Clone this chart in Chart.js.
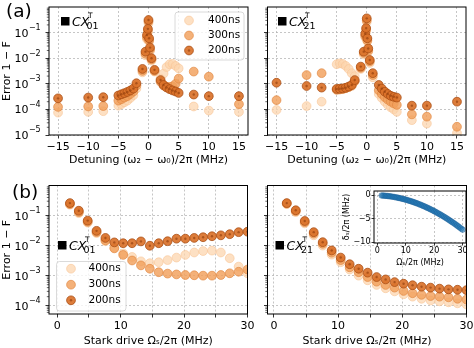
<!DOCTYPE html>
<html>
<head>
<meta charset="utf-8">
<script src="https://cdn.jsdelivr.net/npm/chart.js@4"></script>
<style>
  html, body { margin: 0; padding: 0; background: #fff; }
  #wrap { position: relative; width: 474px; height: 348px; }
  #wrap canvas { position: absolute; left: 0; top: 0; }
</style>
</head>
<body>
<div id="wrap">
  <canvas id="pa1" width="474" height="348"></canvas>
  <canvas id="pa2" width="474" height="348"></canvas>
  <canvas id="pb1" width="474" height="348"></canvas>
  <canvas id="pb2" width="474" height="348"></canvas>
  <canvas id="inset" width="474" height="348"></canvas>
</div>
<script>
// ---- (a) detuning sweep ----
const detuning = [-15, -10, -7.5, -5, -4.5, -4, -3.5, -3, -2.5, -2, -1, -0.5, -0.25, -0.1, 0, 0.1, 0.25, 0.5, 1, 2, 2.5, 3, 3.5, 4, 4.5, 5, 7.5, 10, 15];

const cx01Det200 = [2.7e-4, 2.9e-4, 3.0e-4, 3.5e-4, 3.9e-4, 4.3e-4, 4.8e-4, 5.5e-4, 6.5e-4, 1.05e-3, 3.8e-3, 1.8e-2, 8.0e-2, 0.14, 0.31, 0.06, 0.026, 0.01, 3.5e-3, 1.4e-3, 9e-4, 7.2e-4, 6.2e-4, 5.5e-4, 5e-4, 4.4e-4, 3.8e-4, 3.3e-4, 3.3e-4];
const cx01Det300 = [1.25e-4, 1.3e-4, 1.35e-4, 2.2e-4, 2.5e-4, 2.9e-4, 3.3e-4, 4e-4, 5e-4, 8.5e-4, 3.2e-3, 1.5e-2, 6.5e-2, 0.12, 0.27, 0.05, 0.022, 9e-3, 3.2e-3, 1.2e-3, 8.5e-4, 7.5e-4, 7.5e-4, 8e-4, 1e-3, 1.6e-3, 3e-3, 1.9e-3, 1.6e-4];
const cx01Det400 = [7.5e-5, 8e-5, 8.5e-5, 1.4e-4, 1.6e-4, 1.9e-4, 2.2e-4, 2.8e-4, 3.6e-4, 6.5e-4, 2.8e-3, 1.3e-2, 5.5e-2, 0.1, 0.23, 0.045, 0.019, 8e-3, 3e-3, 1.6e-3, 2.5e-3, 4.5e-3, 5.8e-3, 6e-3, 5e-3, 4e-3, 1.3e-4, 9e-5, 8e-5];

const cx21Det200 = [1.1e-3, 8.2e-4, 7.1e-4, 6.3e-4, 6.4e-4, 6.6e-4, 7e-4, 7.8e-4, 9e-4, 1.4e-3, 4.7e-3, 1.8e-2, 0.09, 0.15, 0.36, 0.06, 0.024, 8.5e-3, 2.6e-3, 9e-4, 6.5e-4, 4.9e-4, 4e-4, 3.4e-4, 3.1e-4, 2.9e-4, 1.4e-4, 1.4e-4, 2e-4];
const cx21Det300 = [2.3e-4, 2.2e-3, 2.6e-3, 5.8e-4, 6e-4, 6.2e-4, 6.7e-4, 7.4e-4, 8.4e-4, 1.25e-3, 4.2e-3, 1.6e-2, 0.075, 0.13, 0.3, 0.05, 0.02, 7.5e-3, 2.2e-3, 5.6e-4, 4e-4, 3e-4, 2.4e-4, 2e-4, 1.7e-4, 1.5e-4, 6.4e-5, 5.2e-5, 2.1e-5];
const cx21Det400 = [9.5e-5, 1.35e-4, 2e-4, 5.8e-3, 6.3e-3, 6e-3, 5e-3, 3.8e-3, 2.6e-3, 2e-3, 3.8e-3, 1.4e-2, 0.065, 0.11, 0.26, 0.045, 0.018, 6.5e-3, 1.8e-3, 4e-4, 2.8e-4, 2e-4, 1.5e-4, 1.2e-4, 1e-4, 8e-5, 3.8e-5, 2.8e-5, 1.2e-5];

// ---- (b) Stark drive sweep ----
const starkDrive = [2, 3.4, 4.8, 6.2, 7.6, 9, 10.4, 11.8, 13.2, 14.6, 16, 17.4, 18.8, 20.2, 21.6, 23, 24.4, 25.8, 27.2, 28.6, 30];

const cx01Stark200 = [0.26, 0.145, 0.068, 0.031, 0.018, 0.0128, 0.012, 0.012, 0.0138, 0.0099, 0.012, 0.014, 0.017, 0.017, 0.018, 0.019, 0.0205, 0.022, 0.024, 0.028, 0.029];
const cx01Stark300 = [0.24, 0.13, 0.062, 0.028, 0.015, 0.0081, 0.0049, 0.0032, 0.0022, 0.0017, 0.0013, 0.00117, 0.0011, 0.00105, 0.00103, 0.001, 0.001, 0.00105, 0.0012, 0.00135, 0.0016];
const cx01Stark400 = [0.23, 0.12, 0.058, 0.026, 0.014, 0.0085, 0.0055, 0.0042, 0.003, 0.0026, 0.0028, 0.0033, 0.004, 0.0049, 0.0059, 0.0066, 0.0068, 0.0059, 0.0038, 0.002, 0.0012];

const cx21Stark200 = [0.26, 0.15, 0.066, 0.028, 0.013, 0.0069, 0.004, 0.0024, 0.0017, 0.00126, 0.0009, 0.00075, 0.00061, 0.00054, 0.00048, 0.00043, 0.0004, 0.00037, 0.00035, 0.00034, 0.00033];
const cx21Stark300 = [0.25, 0.14, 0.06, 0.025, 0.0115, 0.0058, 0.0033, 0.0019, 0.0013, 0.0009, 0.00063, 0.00049, 0.0004, 0.00031, 0.00026, 0.00023, 0.00021, 0.0002, 0.00019, 0.00017, 0.00016];
const cx21Stark400 = [0.24, 0.13, 0.055, 0.022, 0.01, 0.005, 0.0028, 0.0016, 0.001, 0.0007, 0.00049, 0.00038, 0.0003, 0.00024, 0.0002, 0.00017, 0.00015, 0.00014, 0.00013, 0.00012, 0.00011];

// ---- inset: Stark shift vs drive amplitude ----
const insetDrive = [1.5, 2, 2.5, 3, 3.5, 4, 4.5, 5, 5.5, 6, 6.5, 7, 7.5, 8, 8.5, 9, 9.5, 10, 10.5, 11, 11.5, 12, 12.5, 13, 13.5, 14, 14.5, 15, 15.5, 16, 16.5, 17, 17.5, 18, 18.5, 19, 19.5, 20, 20.5, 21, 21.5, 22, 22.5, 23, 23.5, 24, 24.5, 25, 25.5, 26, 26.5, 27, 27.5, 28, 28.5, 29, 29.5, 30];
const insetShift = [-0.05, -0.07, -0.10, -0.13, -0.16, -0.20, -0.24, -0.29, -0.34, -0.39, -0.45, -0.51, -0.57, -0.64, -0.71, -0.79, -0.87, -0.95, -1.04, -1.13, -1.22, -1.32, -1.42, -1.53, -1.64, -1.75, -1.87, -1.99, -2.11, -2.24, -2.37, -2.51, -2.65, -2.79, -2.94, -3.09, -3.24, -3.40, -3.56, -3.73, -3.90, -4.07, -4.25, -4.43, -4.61, -4.80, -4.99, -5.19, -5.39, -5.59, -5.80, -6.01, -6.22, -6.44, -6.66, -6.89, -7.12, -7.35];

const durations = ['400ns', '300ns', '200ns'];
const detTicks = [-15, -10, -5, 0, 5, 10, 15];
const starkTicks = [0, 5, 10, 15, 20, 25, 30];
const errTicksA = [1e-5, 1e-4, 1e-3, 1e-2, 1e-1];
const errTicksB = [1e-4, 1e-3, 1e-2, 1e-1];
const insetXTicks = [0, 10, 20, 30];
const insetYTicks = [-10, -5, 0];

const FONT = 'DejaVu Sans';
const W = 474, H = 348;
const GRID = 'rgba(176,176,176,0.9)';

const STYLE = {
  '400ns': { bg: 'rgba(252,212,172,0.72)', border: 'rgba(248,196,150,0.75)' },
  '300ns': { bg: 'rgba(241,160,92,0.82)', border: 'rgba(226,136,66,0.85)' },
  '200ns': { bg: 'rgba(218,114,42,0.92)', border: 'rgba(168,76,18,0.95)' }
};

function numLabel(v) { return v < 0 ? '\u2212' + Math.abs(v) : String(v); }

function series(xs, ys, st, r) {
  return {
    data: xs.map((x, i) => ({ x: x, y: ys[i] })),
    pointRadius: r, pointHoverRadius: r,
    pointBackgroundColor: st.bg, pointBorderColor: st.border, pointBorderWidth: 0.8,
    showLine: false
  };
}
// three gate durations; the 200 ns markers carry a darker centre
function errorSets(xs, y200, y300, y400) {
  return [
    { data: xs.map((x, i) => ({ x: x, y: y200[i] })), pointRadius: 1.2, pointBackgroundColor: 'rgba(140,58,10,0.6)', pointBorderWidth: 0, showLine: false },
    series(xs, y200, STYLE['200ns'], 4.4),
    series(xs, y300, STYLE['300ns'], 4.4),
    series(xs, y400, STYLE['400ns'], 4.4)
  ];
}

// box around the axes, minor log ticks and power-of-ten labels
const framePlugin = {
  id: 'frame',
  afterDraw(chart, args, opts) {
    const { ctx, chartArea: a } = chart;
    ctx.save();
    ctx.strokeStyle = '#000';
    ctx.lineWidth = 1;
    ctx.strokeRect(a.left, a.top, a.right - a.left, a.bottom - a.top);
    const ys = chart.scales.y;
    if (ys.type === 'logarithmic') {
      ctx.lineWidth = 0.6;
      ctx.beginPath();
      for (let e = -6; e <= 0; e++) {
        for (let m = 2; m <= 9; m++) {
          const v = m * Math.pow(10, e);
          if (v < ys.min || v > ys.max) continue;
          const py = ys.getPixelForValue(v);
          ctx.moveTo(a.left - 2.2, py);
          ctx.lineTo(a.left, py);
        }
      }
      ctx.stroke();
      if (opts && opts.powLabels) {
        ctx.fillStyle = '#000';
        ctx.textAlign = 'right';
        ctx.textBaseline = 'alphabetic';
        ys.ticks.forEach(t => {
          const py = ys.getPixelForValue(t.value);
          const e = Math.round(Math.log10(t.value));
          const expText = e < 0 ? '\u2212' + Math.abs(e) : String(e);
          const xr = a.left - 8.3;
          ctx.font = '8px "' + FONT + '"';
          const ew = ctx.measureText(expText).width;
          ctx.fillText(expText, xr, py - 2.6);
          ctx.font = '11px "' + FONT + '"';
          ctx.fillText('10', xr - ew - 0.4, py + 4);
        });
      }
    }
    ctx.restore();
  }
};

function drawCX(ctx, sx, by, sub) {
  ctx.save();
  ctx.fillStyle = '#000';
  ctx.fillRect(sx, by - 9, 8.5, 8.5);
  ctx.textAlign = 'left';
  ctx.textBaseline = 'alphabetic';
  ctx.font = 'italic 12.5px "' + FONT + '"';
  ctx.fillText('CX', sx + 11, by);
  ctx.font = '9.5px "' + FONT + '"';
  ctx.fillText(sub, sx + 25.5, by + 3);
  ctx.font = '7.5px "' + FONT + '"';
  ctx.fillText('T', sx + 27, by - 8);
  ctx.restore();
}

function drawLegend(ctx, box, rows) {
  ctx.save();
  const r = 3;
  ctx.beginPath();
  ctx.moveTo(box.l + r, box.t);
  ctx.arcTo(box.r, box.t, box.r, box.b, r);
  ctx.arcTo(box.r, box.b, box.l, box.b, r);
  ctx.arcTo(box.l, box.b, box.l, box.t, r);
  ctx.arcTo(box.l, box.t, box.r, box.t, r);
  ctx.closePath();
  ctx.fillStyle = 'rgba(255,255,255,0.8)';
  ctx.fill();
  ctx.strokeStyle = 'rgba(204,204,204,0.9)';
  ctx.lineWidth = 0.8;
  ctx.stroke();
  ctx.font = '10.5px "' + FONT + '"';
  ctx.textBaseline = 'middle';
  ctx.textAlign = 'left';
  durations.forEach((name, i) => {
    const st = STYLE[name];
    const y = rows.y[i];
    ctx.beginPath();
    ctx.arc(rows.mx, y, 4.4, 0, Math.PI * 2);
    ctx.fillStyle = st.bg; ctx.fill();
    ctx.strokeStyle = st.border; ctx.lineWidth = 0.8; ctx.stroke();
    if (name === '200ns') {
      ctx.beginPath(); ctx.arc(rows.mx, y, 1.2, 0, Math.PI * 2);
      ctx.fillStyle = 'rgba(140,58,10,0.6)'; ctx.fill();
    }
    ctx.fillStyle = '#000';
    ctx.fillText(name, rows.tx, y);
  });
  ctx.restore();
}

function panelLabel(ctx, text, x, y) {
  ctx.save();
  ctx.font = '18.5px "' + FONT + '"';
  ctx.fillStyle = '#000';
  ctx.textBaseline = 'alphabetic';
  ctx.textAlign = 'left';
  ctx.fillText(text, x, y);
  ctx.restore();
}

function makePanel(id, o) {
  const zeroPad = s => { s.paddingLeft = 0; s.paddingRight = 0; s.paddingTop = 0; s.paddingBottom = 0; };
  return new Chart(document.getElementById(id), {
    type: 'scatter',
    data: { datasets: o.datasets },
    options: {
      responsive: false, animation: false, events: [],
      layout: { padding: { left: o.area.l - o.yW, top: o.area.t, right: W - o.area.r, bottom: H - o.area.b - o.xH } },
      plugins: { legend: { display: false }, tooltip: { enabled: false }, frame: { powLabels: !!o.powLabels } },
      scales: {
        x: {
          type: 'linear', min: o.xMin, max: o.xMax,
          afterBuildTicks: s => { s.ticks = o.xTicks.map(v => ({ value: v })); },
          afterFit: s => { s.height = o.xH; zeroPad(s); },
          ticks: { autoSkip: false, maxRotation: 0, color: '#000', font: { family: FONT, size: o.fs }, padding: o.xPad, callback: o.xFmt },
          grid: { color: GRID, lineWidth: 0.8, tickColor: '#000', tickLength: o.tl, tickWidth: 0.8 },
          border: { display: false, dash: [2, 2] },
          title: { display: !!o.xTitle, text: o.xTitle, color: '#000', font: { family: FONT, size: o.tfs }, padding: 0 }
        },
        y: {
          type: o.yType, min: o.yMin, max: o.yMax,
          afterBuildTicks: s => { s.ticks = o.yTicks.map(v => ({ value: v })); },
          afterFit: s => { s.width = o.yW; zeroPad(s); },
          ticks: { display: o.yLabels, autoSkip: false, color: '#000', font: { family: FONT, size: o.fs }, padding: o.yPad, callback: o.yFmt },
          grid: { color: GRID, lineWidth: 0.8, tickColor: '#000', tickLength: o.tl, tickWidth: 0.8 },
          border: { display: false, dash: [2, 2] },
          title: { display: !!o.yTitle, text: o.yTitle, color: '#000', font: { family: FONT, size: o.tfs }, padding: 0 }
        }
      }
    },
    plugins: [framePlugin].concat(o.extra || [])
  });
}

const detTitle = 'Detuning (\u03C9\u2082 \u2212 \u03C9\u2080)/2\u03C0 (MHz)';
const starkTitle = 'Stark drive \u03A9\u209B/2\u03C0 (MHz)';
const errTitle = 'Error 1 \u2212 F';

// decade labels are drawn by the frame plugin (10 with a raised exponent)
const common = { fs: 11, tfs: 11, tl: 3.5, xPad: 2, yPad: 3, xFmt: numLabel, yFmt: () => '', yType: 'logarithmic', powLabels: true };

// (a) left: CX01, detuning sweep
makePanel('pa1', Object.assign({}, common, {
  area: { l: 49, t: 7, r: 248, b: 135 }, yW: 48, xH: 32,
  xMin: -16.5, xMax: 16.5, xTicks: detTicks, yMin: 1e-5, yMax: 1, yTicks: errTicksA, yLabels: true,
  xTitle: detTitle, yTitle: errTitle,
  datasets: errorSets(detuning, cx01Det200, cx01Det300, cx01Det400),
  extra: [{ id: 'decorA1', afterDraw(chart) {
    const ctx = chart.ctx;
    drawCX(ctx, 61, 26, '01');
    drawLegend(ctx, { l: 175, t: 12, r: 244, b: 60 }, { mx: 189, tx: 208, y: [20.5, 35.5, 50.5] });
    panelLabel(ctx, '(a)', 6, 17);
  } }]
}));

// (a) right: CX21, detuning sweep
makePanel('pa2', Object.assign({}, common, {
  area: { l: 267.5, t: 7, r: 466, b: 135 }, yW: 6, xH: 32,
  xMin: -16.5, xMax: 16.5, xTicks: detTicks, yMin: 1e-5, yMax: 1, yTicks: errTicksA, yLabels: false, powLabels: false,
  xTitle: detTitle, yTitle: '',
  datasets: errorSets(detuning, cx21Det200, cx21Det300, cx21Det400),
  extra: [{ id: 'decorA2', afterDraw(chart) { drawCX(chart.ctx, 278, 26, '21'); } }]
}));

// (b) left: CX01, Stark drive sweep
makePanel('pb1', Object.assign({}, common, {
  area: { l: 49, t: 185.5, r: 247.5, b: 314 }, yW: 48, xH: 33.6,
  xMin: -1.3, xMax: 30, xTicks: starkTicks, yMin: 5.3e-5, yMax: 1, yTicks: errTicksB, yLabels: true,
  xFmt: v => (v % 10 === 0 ? String(v) : ''),
  xTitle: starkTitle, yTitle: errTitle,
  datasets: errorSets(starkDrive, cx01Stark200, cx01Stark300, cx01Stark400),
  extra: [{ id: 'decorB1', afterDraw(chart) {
    const ctx = chart.ctx;
    drawCX(ctx, 58, 250, '01');
    drawLegend(ctx, { l: 56.5, t: 261.5, r: 126, b: 311 }, { mx: 71, tx: 88.5, y: [268.7, 284.7, 300.3] });
    panelLabel(ctx, '(b)', 12, 198);
  } }]
}));

// (b) right: CX21, Stark drive sweep
makePanel('pb2', Object.assign({}, common, {
  area: { l: 267.5, t: 185.5, r: 466.5, b: 314 }, yW: 6, xH: 33.6,
  xMin: -1, xMax: 30, xTicks: starkTicks, yMin: 5.3e-5, yMax: 1, yTicks: errTicksB, yLabels: false, powLabels: false,
  xFmt: v => (v % 10 === 0 ? String(v) : ''),
  xTitle: starkTitle, yTitle: '',
  datasets: errorSets(starkDrive, cx21Stark200, cx21Stark300, cx21Stark400),
  extra: [{ id: 'decorB2', afterDraw(chart) { drawCX(chart.ctx, 275.5, 250, '21'); } }]
}));

// inset: measured Stark shift
makePanel('inset', {
  fs: 8, tfs: 8, tl: 2.5, xPad: 1, yPad: 1, yType: 'linear',
  area: { l: 374, t: 191, r: 466, b: 243 }, yW: 32, xH: 24.3,
  xMin: -1.2, xMax: 31.2, xTicks: insetXTicks, yMin: -10.2, yMax: 0.9, yTicks: insetYTicks, yLabels: true,
  xFmt: numLabel, yFmt: numLabel,
  xTitle: '\u03A9\u209B/2\u03C0 (MHz)', yTitle: '\u03B4\u209B/2\u03C0 (MHz)',
  datasets: [{
    data: insetDrive.map((x, i) => ({ x: x, y: insetShift[i] })),
    pointRadius: 2.8, pointBackgroundColor: 'rgba(31,119,180,0.55)', pointBorderColor: 'rgba(24,92,150,0.7)', pointBorderWidth: 0.6,
    showLine: false
  }],
  extra: [{ id: 'insetBg', beforeDraw(chart) {
    const { ctx, chartArea: a } = chart;
    ctx.save(); ctx.fillStyle = '#fff';
    ctx.fillRect(a.left, a.top, a.right - a.left, a.bottom - a.top);
    ctx.restore();
  } }]
});
</script>
</body>
</html>
